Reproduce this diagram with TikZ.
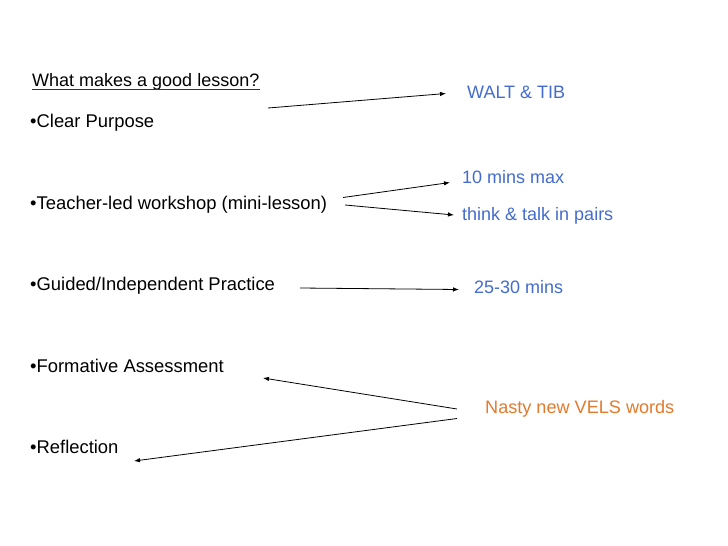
\documentclass[tikz,border=0pt]{standalone}
\usepackage{fontspec}
\setmainfont{Liberation Sans}
\usetikzlibrary{arrows.meta}
\definecolor{noteblue}{RGB}{68,108,206}
\definecolor{noteorange}{RGB}{228,122,46}
\tikzset{
  txt/.style={anchor=base west, inner sep=0pt, font=\fontsize{18}{21}\selectfont},
  itemtxt/.style={txt, font=\fontsize{18.4}{21}\selectfont},
  bluetxt/.style={txt, text=noteblue},
  orangetxt/.style={txt, text=noteorange, font=\fontsize{18.1}{21}\selectfont},
  conn/.style={draw=black, line width=0.8pt, -{Latex[length=6pt,width=4.5pt]}}
}
\begin{document}
\begin{tikzpicture}[x=1pt,y=-1pt]
\useasboundingbox[fill=white] (0,0) rectangle (728,546);
% left column
\node[txt] (title) at (32,86) {What makes a good lesson?};
\draw[line width=0.9pt, black!80] ([yshift=-3pt]title.base west) -- ([yshift=-3pt]title.base east);
\node[itemtxt] (purpose) at (30,127.5) {•Clear Purpose};
\node[itemtxt] (workshop) at (30,209) {•Teacher-led workshop (mini-lesson)};
\node[itemtxt] (practice) at (30,290.5) {•Guided/Independent Practice};
\node[itemtxt] (assess) at (30,372) {•Formative Assessment};
\node[itemtxt] (reflect) at (30,453) {•Reflection};
% right column
\node[bluetxt] (walt) at (467,98.5) {WALT \& TIB};
\node[bluetxt] (tenmin) at (462,183) {10 mins max};
\node[bluetxt] (pairs) at (462,220) {think \& talk in pairs};
\node[bluetxt] (mins) at (474,293) {25-30 mins};
\node[orangetxt] (vels) at (485,413) {Nasty new VELS words};
% arrow end points
\coordinate (a1s) at (268,108);
\coordinate (a1e) at (446,93.5);
\coordinate (a2s) at (343,197.5);
\coordinate (a2e) at (450,182.5);
\coordinate (a3s) at (345,205);
\coordinate (a3e) at (454,215);
\coordinate (a4s) at (300,288);
\coordinate (a4e) at (459,289.5);
\coordinate (a5s) at (457,409);
\coordinate (a5e) at (263,378);
\coordinate (a6s) at (457,418.5);
\coordinate (a6e) at (134,461);
% connectors
\draw[conn] (a1s) -- (a1e);
\draw[conn] (a2s) -- (a2e);
\draw[conn] (a3s) -- (a3e);
\draw[conn] (a4s) -- (a4e);
\draw[conn] (a5s) -- (a5e);
\draw[conn] (a6s) -- (a6e);
\end{tikzpicture}
\end{document}
